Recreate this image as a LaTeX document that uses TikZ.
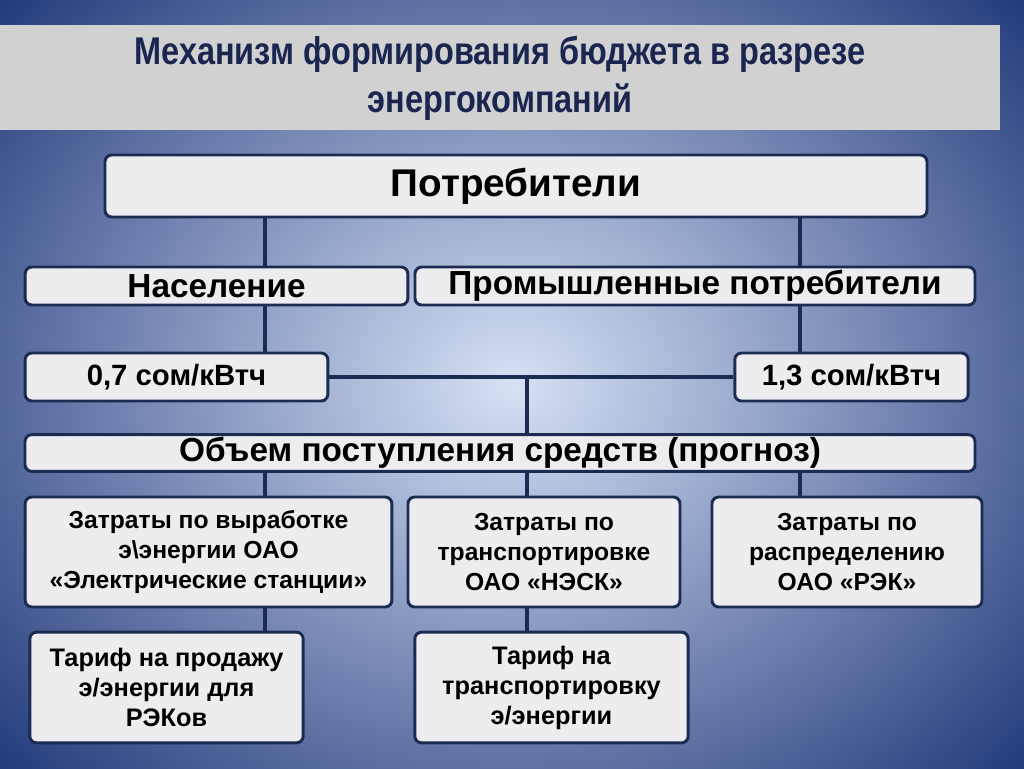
\documentclass[tikz,border=0pt]{standalone}
\usepackage{fontspec}
\setmainfont{Liberation Sans}
\begin{document}
\begin{tikzpicture}[x=0.75pt,y=-0.75pt,
 bx/.style={draw=navy,line width=2.2pt,fill=boxf,rounded corners=5pt,inner sep=0pt,font=\bfseries,text=black,align=center},
 ln/.style={draw=navy,line width=3pt}]
\definecolor{navy}{HTML}{1C2B52}
\definecolor{boxf}{HTML}{EDEDEF}
\definecolor{tcol}{HTML}{1A2550}
\useasboundingbox (0,0) rectangle (1024,768);
\shade[inner color={rgb,255:red,215;green,225;blue,245},outer color={rgb,255:red,30;green,55;blue,120}] (-200,-200) rectangle (1224,968);
\fill[black!18] (0,25) rectangle (1000,130);
\node[text=tcol,font=\bfseries\fontsize{29}{36}\selectfont,align=center,xscale=0.84] (title) at (500,78) {Механизм формирования бюджета в разрезе\\энергокомпаний};
\node[bx,minimum width=616.5pt,minimum height=46.5pt,font=\bfseries\fontsize{29}{34}\selectfont] (pot) at (516,186) {Потребители};
\node[bx,minimum width=287pt,minimum height=28.5pt,font=\bfseries\fontsize{25}{28}\selectfont] (nas) at (216.5,286) {Население};
\node[bx,minimum width=420pt,minimum height=28.5pt,font=\bfseries\fontsize{25}{28}\selectfont] (prom) at (695,286) {Промышленные потребители};
\node[bx,minimum width=227pt,minimum height=36pt,font=\bfseries\fontsize{22}{26}\selectfont] (t1) at (176.5,377) {0,7 сом/кВтч};
\node[bx,minimum width=175pt,minimum height=36pt,font=\bfseries\fontsize{22}{26}\selectfont] (t2) at (851.5,377) {1,3 сом/кВтч};
\node[bx,minimum width=712.5pt,minimum height=27.5pt,font=\bfseries\fontsize{25}{28}\selectfont] (ob) at (500,453) {Объем поступления средств (прогноз)};
\node[bx,minimum width=275pt,minimum height=82.5pt,font=\bfseries\fontsize{18.5}{22.5}\selectfont] (z1) at (208.5,552) {Затраты по выработке\\э\textbackslash энергии ОАО\\«Электрические станции»};
\node[bx,minimum width=204pt,minimum height=82.5pt,font=\bfseries\fontsize{18.5}{22.5}\selectfont] (z2) at (544,552) {Затраты по\\транспортировке\\ОАО «НЭСК»};
\node[bx,minimum width=202.5pt,minimum height=82.5pt,font=\bfseries\fontsize{18.5}{22.5}\selectfont] (z3) at (847,552) {Затраты по\\распределению\\ОАО «РЭК»};
\node[bx,minimum width=205pt,minimum height=83pt,font=\bfseries\fontsize{19}{22.5}\selectfont] (r1) at (166.5,687.5) {Тариф на продажу\\э/энергии для\\РЭКов};
\node[bx,minimum width=205pt,minimum height=83pt,font=\bfseries\fontsize{19}{22.5}\selectfont] (r2) at (551.5,687.5) {Тариф на\\транспортировку\\э/энергии};
\coordinate (a) at (265,0); \coordinate (b) at (527,0); \coordinate (c) at (800,0);
\coordinate (m) at (527,376);
\draw[ln] (pot.south -| a) -- (nas.north -| a);
\draw[ln] (pot.south -| c) -- (prom.north -| c);
\draw[ln] (nas.south -| a) -- (t1.north -| a);
\draw[ln] (prom.south -| c) -- (t2.north -| c);
\draw[ln] (t1.east) -- (t2.west);
\draw[ln] (m) -- (ob.north -| b);
\draw[ln] (ob.south -| a) -- (z1.north -| a);
\draw[ln] (ob.south -| b) -- (z2.north -| b);
\draw[ln] (ob.south -| c) -- (z3.north -| c);
\draw[ln] (z1.south -| a) -- (r1.north -| a);
\draw[ln] (z2.south -| b) -- (r2.north -| b);
\end{tikzpicture}
\end{document}
